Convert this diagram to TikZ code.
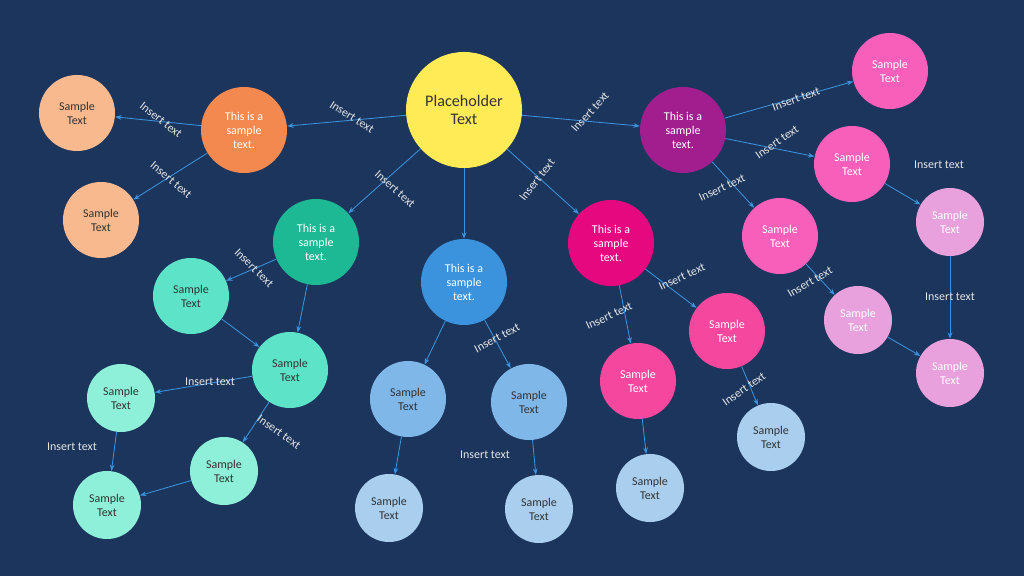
\documentclass[tikz,border=0pt]{standalone}
\usepackage{fontspec}
\setmainfont{Carlito}
\usetikzlibrary{arrows.meta}
\definecolor{bgblue}{HTML}{1B355C}
\definecolor{linkblue}{HTML}{3A93DC}
\definecolor{cyellow}{HTML}{FFEB55}
\definecolor{corange}{HTML}{F4894F}
\definecolor{cpeach}{HTML}{F8B98F}
\definecolor{cteal}{HTML}{1DB894}
\definecolor{cmint}{HTML}{5CE3C8}
\definecolor{clmint}{HTML}{8EF0D8}
\definecolor{cblue}{HTML}{3A93DC}
\definecolor{clblue}{HTML}{7FB7E8}
\definecolor{cllblue}{HTML}{A9CEEE}
\definecolor{cmagenta}{HTML}{E5087E}
\definecolor{cpink}{HTML}{F6479F}
\definecolor{cpurple}{HTML}{A21E8F}
\definecolor{chotpink}{HTML}{F75FBA}
\definecolor{clpink}{HTML}{E9A1DD}
\begin{document}
\begin{tikzpicture}[x=0.025cm, y=-0.025cm,
    hub/.style={circle, fill=cyellow, minimum size=2.9cm, align=center, font=\fontsize{11.5}{13}\selectfont, text=black!80},
    topic/.style={circle, minimum size=2.15cm, align=center, font=\fontsize{8.5}{10}\selectfont, text=white},
    leaf/.style={circle, minimum size=1.9cm, align=center, font=\fontsize{8.5}{10}\selectfont, text=black!80},
    small/.style={circle, minimum size=1.7cm, align=center, font=\fontsize{8.5}{10}\selectfont, text=black!80},
    lbl/.style={font=\fontsize{8.5}{10}\selectfont, text=white!90!black, inner sep=1pt},
    arrow/.style={-{Stealth[length=1.6mm]}, linkblue, semithick}
]
\fill[bgblue] (0,0) rectangle (1024,576);
\useasboundingbox (0,0) rectangle (1024,576);

% Centre
\node[hub] (hub) at (464,110) {Placeholder\\Text};

% Orange branch
\node[topic, fill=corange] (orange) at (244,130) {This is a\\sample\\text.};
\node[leaf, fill=cpeach] (peachA) at (77,113) {Sample\\Text};
\node[leaf, fill=cpeach] (peachB) at (101,220) {Sample\\Text};

% Teal branch
\node[topic, fill=cteal] (teal) at (316,242) {This is a\\sample\\text.};
\node[leaf, fill=cmint] (mintA) at (191,296) {Sample\\Text};
\node[leaf, fill=cmint] (mintB) at (290,370) {Sample\\Text};
\node[small, fill=clmint] (lmintA) at (121,398) {Sample\\Text};
\node[small, fill=clmint] (lmintB) at (224,471) {Sample\\Text};
\node[small, fill=clmint] (lmintC) at (107,505) {Sample\\Text};

% Blue branch
\node[topic, fill=cblue] (blue) at (464,282) {This is a\\sample\\text.};
\node[leaf, fill=clblue] (lblueA) at (408,399) {Sample\\Text};
\node[leaf, fill=clblue] (lblueB) at (529,402) {Sample\\Text};
\node[small, fill=cllblue] (llblueA) at (389,508) {Sample\\Text};
\node[small, fill=cllblue] (llblueB) at (539,509) {Sample\\Text};

% Magenta branch
\node[topic, fill=cmagenta] (magenta) at (611,243) {This is a\\sample\\text.};
\node[leaf, fill=cpink, text=white] (pinkA) at (638,381) {Sample\\Text};
\node[leaf, fill=cpink, text=white] (pinkB) at (727,331) {Sample\\Text};
\node[small, fill=cllblue] (paleA) at (650,488) {Sample\\Text};
\node[small, fill=cllblue] (paleB) at (771,437) {Sample\\Text};

% Purple branch
\node[topic, fill=cpurple] (purple) at (683,130) {This is a\\sample\\text.};
\node[leaf, fill=chotpink, text=white] (hotA) at (890,71) {Sample\\Text};
\node[leaf, fill=chotpink, text=white] (hotB) at (852,164) {Sample\\Text};
\node[leaf, fill=chotpink, text=white] (hotC) at (780,236) {Sample\\Text};
\node[small, fill=clpink, text=white] (lpinkA) at (950,222) {Sample\\Text};
\node[small, fill=clpink, text=white] (lpinkB) at (858,320) {Sample\\Text};
\node[small, fill=clpink, text=white] (lpinkC) at (950,373) {Sample\\Text};

% Arrows
\draw[arrow] (hub) -- (orange);
\draw[arrow] (hub) -- (teal);
\draw[arrow] (hub) -- (blue);
\draw[arrow] (hub) -- (magenta);
\draw[arrow] (hub) -- (purple);
\draw[arrow] (orange) -- (peachA);
\draw[arrow] (orange) -- (peachB);
\draw[arrow] (teal) -- (mintA);
\draw[arrow] (teal) -- (mintB);
\draw[arrow] (mintA) -- (mintB);
\draw[arrow] (mintB) -- (lmintA);
\draw[arrow] (mintB) -- (lmintB);
\draw[arrow] (lmintA) -- (lmintC);
\draw[arrow] (lmintB) -- (lmintC);
\draw[arrow] (blue) -- (lblueA);
\draw[arrow] (blue) -- (lblueB);
\draw[arrow] (lblueA) -- (llblueA);
\draw[arrow] (lblueB) -- (llblueB);
\draw[arrow] (magenta) -- (pinkA);
\draw[arrow] (magenta) -- (pinkB);
\draw[arrow] (pinkA) -- (paleA);
\draw[arrow] (pinkB) -- (paleB);
\draw[arrow] (purple) -- (hotA);
\draw[arrow] (purple) -- (hotB);
\draw[arrow] (purple) -- (hotC);
\draw[arrow] (hotB) -- (lpinkA);
\draw[arrow] (hotC) -- (lpinkB);
\draw[arrow] (lpinkB) -- (lpinkC);
\draw[arrow] (lpinkA) -- (lpinkC);

% Labels
\node[lbl, rotate=-32] (l1) at (352,117) {Insert text};
\node[lbl, rotate=-38] (l2) at (161,120) {Insert text};
\node[lbl, rotate=-40] (l3) at (171,180) {Insert text};
\node[lbl, rotate=-42] (l4) at (395,189) {Insert text};
\node[lbl, rotate=52] (l5) at (537,180) {Insert text};
\node[lbl, rotate=48] (l6) at (590,112) {Insert text};
\node[lbl, rotate=-45] (l7) at (254,268) {Insert text};
\node[lbl] (l8) at (210,382) {Insert text};
\node[lbl, rotate=-35] (l9) at (279,432) {Insert text};
\node[lbl] (l10) at (72,447) {Insert text};
\node[lbl, rotate=28] (l11) at (497,338) {Insert text};
\node[lbl] (l12) at (485,455) {Insert text};
\node[lbl, rotate=25] (l13) at (609,316) {Insert text};
\node[lbl, rotate=25] (l14) at (682,277) {Insert text};
\node[lbl, rotate=35] (l15) at (744,389) {Insert text};
\node[lbl, rotate=20] (l16) at (796,99) {Insert text};
\node[lbl, rotate=35] (l17) at (777,142) {Insert text};
\node[lbl, rotate=25] (l18) at (722,188) {Insert text};
\node[lbl] (l19) at (939,165) {Insert text};
\node[lbl, rotate=30] (l20) at (810,282) {Insert text};
\node[lbl] (l21) at (950,297) {Insert text};
\end{tikzpicture}
\end{document}
